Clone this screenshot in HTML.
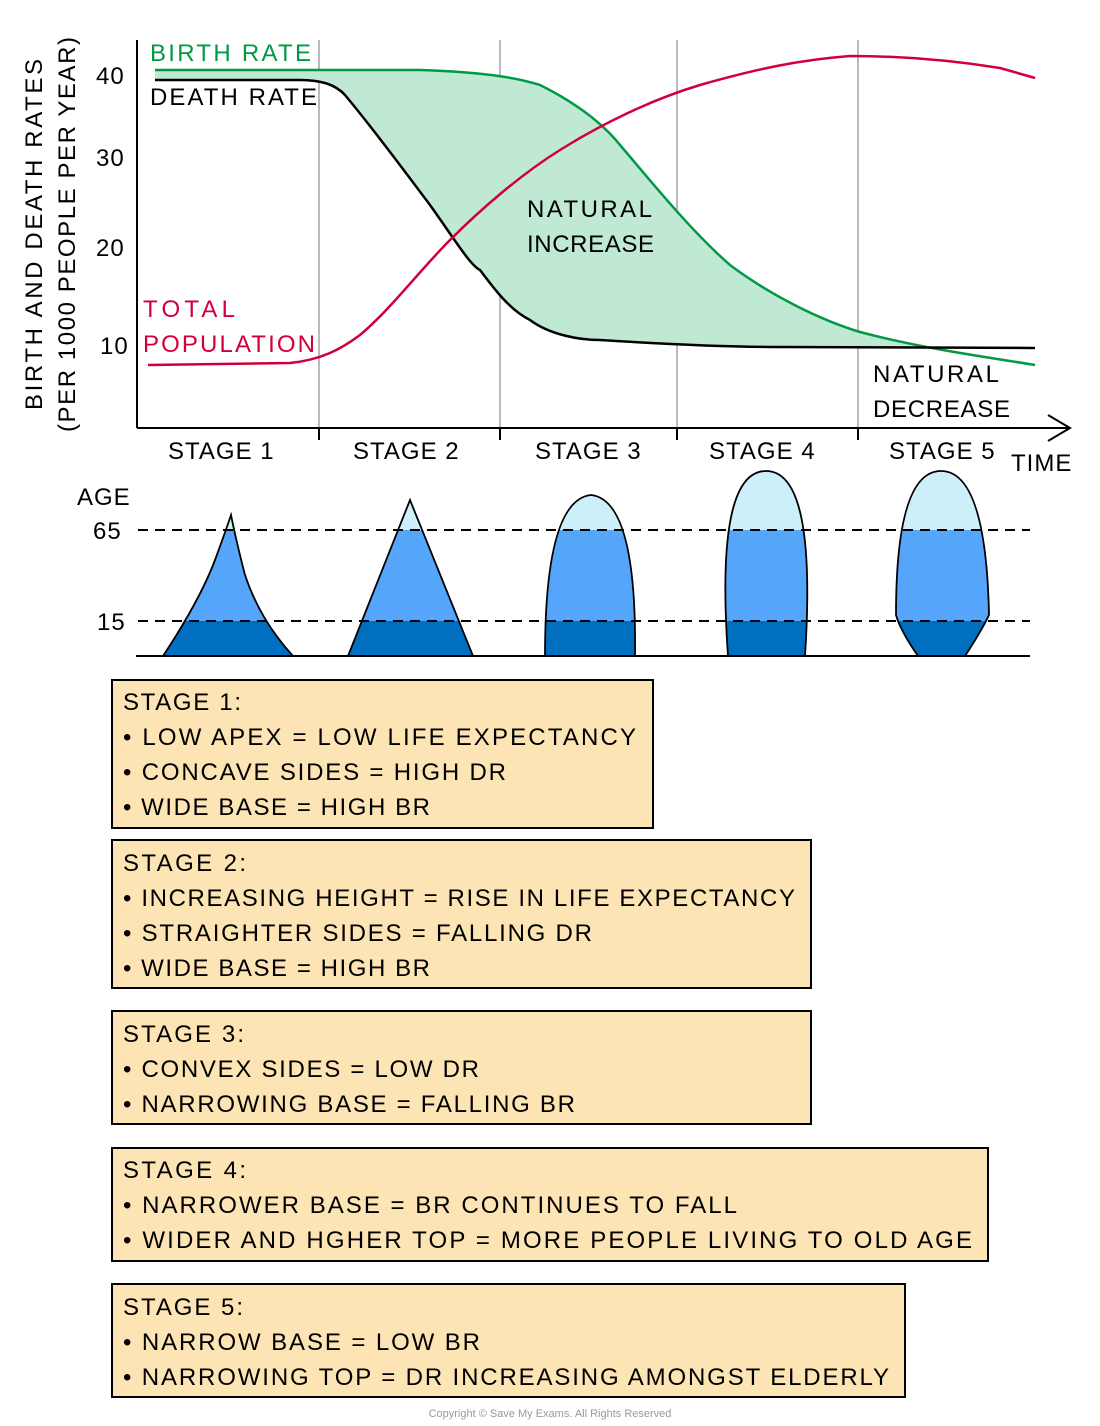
<!DOCTYPE html>
<html><head><meta charset="utf-8"><style>
body{margin:0;background:#fff;width:1100px;height:1426px;overflow:hidden}
svg{display:block}
text{font-family:"Liberation Sans",sans-serif;font-size:24px;letter-spacing:1px}
</style></head><body>
<svg width="1100" height="1426" viewBox="0 0 1100 1426">
<defs>
<clipPath id="c1"><path d="M163,656 Q200,600 215,560 Q226,530 231,515 Q236,540 245,575 Q260,620 293,656 Z"/></clipPath>
<clipPath id="c2"><path d="M348,656 L410,500 L473,656 Z"/></clipPath>
<clipPath id="c3"><path d="M545,656 Q545,500 591,495 Q637,500 635,656 Z"/></clipPath>
<clipPath id="c4"><path d="M728,656 Q715,471 766,471 Q817,471 805,656 Z"/></clipPath>
<clipPath id="c5"><path d="M918,656 Q900,630 896,615 Q896,471 941,471 Q986,471 989,615 Q982,630 965,656 Z"/></clipPath>
</defs>
<g stroke="#bbb" stroke-width="2">
<line x1="319" y1="40" x2="319" y2="428"/><line x1="500" y1="40" x2="500" y2="428"/>
<line x1="677" y1="40" x2="677" y2="428"/><line x1="858" y1="40" x2="858" y2="428"/>
</g>
<path d="M155,70 L420,70 C480,72 515,77 540,85 C570,100 600,120 620,145 C650,180 690,230 730,265 C770,295 820,320 860,332 L930,347.5 L780,347 C730,347 680,345 600,340 C580,340 550,335 530,320 C510,310 495,290 480,270 C470,265 455,240 430,205 C400,165 370,125 345,95 C335,84 320,80 300,80 L155,80 Z" fill="#bfe9d3"/>
<path d="M155,70 L420,70 C480,72 515,77 540,85 C570,100 600,120 620,145 C650,180 690,230 730,265 C770,295 820,320 860,332 C920,348 980,356 1035,365" fill="none" stroke="#009a44" stroke-width="2.5"/>
<path d="M155,80 L300,80 C320,80 335,84 345,95 C370,125 400,165 430,205 C455,240 470,265 480,270 C495,290 510,310 530,320 C550,335 580,340 600,340 C680,345 730,347 780,347 L1035,348" fill="none" stroke="#000" stroke-width="2.5"/>
<path d="M148,365 L290,363 C320,360 340,350 360,335 C390,310 420,270 450,240 C480,210 520,175 560,150 C600,125 650,100 700,85 C760,68 800,60 850,56 C900,56 950,60 1000,68 L1035,78" fill="none" stroke="#d1003a" stroke-width="2.5"/>
<g stroke="#000" stroke-width="2" fill="none">
<line x1="137" y1="40" x2="137" y2="428"/><line x1="137" y1="428" x2="1070" y2="428"/>
<polyline points="1048,415 1070,428 1048,441"/>
<line x1="319" y1="428" x2="319" y2="440"/><line x1="500" y1="428" x2="500" y2="440"/>
<line x1="677" y1="428" x2="677" y2="440"/><line x1="858" y1="428" x2="858" y2="440"/>
</g>
<g fill="#000">
<text x="96" y="84">40</text><text x="96" y="166">30</text><text x="96" y="256">20</text><text x="100" y="354">10</text>
<text x="150" y="105" textLength="168" lengthAdjust="spacing">DEATH RATE</text>
<text x="527" y="217" textLength="126" lengthAdjust="spacing">NATURAL</text><text x="527" y="252" textLength="128" lengthAdjust="spacing">INCREASE</text>
<text x="873" y="382" textLength="127" lengthAdjust="spacing">NATURAL</text><text x="873" y="417" textLength="138" lengthAdjust="spacing">DECREASE</text>
<text x="168" y="459">STAGE 1</text><text x="353" y="459">STAGE 2</text><text x="535" y="459">STAGE 3</text><text x="709" y="459">STAGE 4</text><text x="889" y="459">STAGE 5</text>
<text x="1011" y="471">TIME</text>
<text transform="translate(42,410) rotate(-90)" textLength="352" lengthAdjust="spacing">BIRTH AND DEATH RATES</text>
<text transform="translate(75,432) rotate(-90)" textLength="396" lengthAdjust="spacing">(PER 1000 PEOPLE PER YEAR)</text>
<text x="77" y="505">AGE</text><text x="93" y="539">65</text><text x="97" y="630">15</text>
</g>
<text x="150" y="61" fill="#009a44" textLength="162" lengthAdjust="spacing">BIRTH RATE</text>
<text x="143" y="317" fill="#d1003a" textLength="93" lengthAdjust="spacing">TOTAL</text>
<text x="143" y="352" fill="#d1003a" textLength="173" lengthAdjust="spacing">POPULATION</text>
<g clip-path="url(#c1)"><rect x="140" y="400" width="180" height="130" fill="#cdeffa"/><rect x="140" y="530" width="180" height="91" fill="#55a6fb"/><rect x="140" y="621" width="180" height="40" fill="#006fc0"/></g>
<g clip-path="url(#c2)"><rect x="330" y="400" width="160" height="130" fill="#cdeffa"/><rect x="330" y="530" width="160" height="91" fill="#55a6fb"/><rect x="330" y="621" width="160" height="40" fill="#006fc0"/></g>
<g clip-path="url(#c3)"><rect x="530" y="400" width="120" height="130" fill="#cdeffa"/><rect x="530" y="530" width="120" height="91" fill="#55a6fb"/><rect x="530" y="621" width="120" height="40" fill="#006fc0"/></g>
<g clip-path="url(#c4)"><rect x="700" y="400" width="130" height="130" fill="#cdeffa"/><rect x="700" y="530" width="130" height="91" fill="#55a6fb"/><rect x="700" y="621" width="130" height="40" fill="#006fc0"/></g>
<g clip-path="url(#c5)"><rect x="880" y="400" width="120" height="130" fill="#cdeffa"/><rect x="880" y="530" width="120" height="91" fill="#55a6fb"/><rect x="880" y="621" width="120" height="40" fill="#006fc0"/></g>
<g fill="none" stroke="#000" stroke-width="1.8">
<path d="M163,656 Q200,600 215,560 Q226,530 231,515 Q236,540 245,575 Q260,620 293,656"/>
<path d="M348,656 L410,500 L473,656"/>
<path d="M545,656 Q545,500 591,495 Q637,500 635,656"/>
<path d="M728,656 Q715,471 766,471 Q817,471 805,656"/>
<path d="M918,656 Q900,630 896,615 Q896,471 941,471 Q986,471 989,615 Q982,630 965,656"/>
</g>
<g stroke="#000" stroke-width="2" stroke-dasharray="10,7">
<line x1="138" y1="530" x2="1030" y2="530"/><line x1="138" y1="621" x2="1030" y2="621"/>
</g>
<line x1="136" y1="656" x2="1030" y2="656" stroke="#000" stroke-width="2"/>
<g fill="#fde4b4" stroke="#000" stroke-width="2">
<rect x="112" y="680" width="541" height="148"/>
<rect x="112" y="840" width="699" height="148"/>
<rect x="112" y="1011" width="699" height="113"/>
<rect x="112" y="1148" width="876" height="113"/>
<rect x="112" y="1284" width="793" height="113"/>
</g>
<g fill="#000">
<text x="123" y="710" textLength="119" lengthAdjust="spacing">STAGE 1:</text>
<text x="123" y="745" textLength="514" lengthAdjust="spacing">• LOW  APEX = LOW  LIFE  EXPECTANCY</text>
<text x="123" y="780" textLength="384" lengthAdjust="spacing">• CONCAVE  SIDES = HIGH  DR</text>
<text x="123" y="815" textLength="308" lengthAdjust="spacing">• WIDE  BASE = HIGH  BR</text>
<text x="123" y="871" textLength="124" lengthAdjust="spacing">STAGE 2:</text>
<text x="123" y="906" textLength="673" lengthAdjust="spacing">• INCREASING  HEIGHT = RISE  IN  LIFE  EXPECTANCY</text>
<text x="123" y="941" textLength="470" lengthAdjust="spacing">• STRAIGHTER  SIDES = FALLING  DR</text>
<text x="123" y="976" textLength="308" lengthAdjust="spacing">• WIDE  BASE = HIGH  BR</text>
<text x="123" y="1042" textLength="122" lengthAdjust="spacing">STAGE 3:</text>
<text x="123" y="1077" textLength="357" lengthAdjust="spacing">• CONVEX  SIDES = LOW DR</text>
<text x="123" y="1112" textLength="453" lengthAdjust="spacing">• NARROWING  BASE = FALLING  BR</text>
<text x="123" y="1178" textLength="124" lengthAdjust="spacing">STAGE 4:</text>
<text x="123" y="1213" textLength="615" lengthAdjust="spacing">• NARROWER  BASE = BR  CONTINUES  TO  FALL</text>
<text x="123" y="1248" textLength="850" lengthAdjust="spacing">• WIDER  AND  HGHER  TOP = MORE  PEOPLE  LIVING  TO  OLD  AGE</text>
<text x="123" y="1315" textLength="121" lengthAdjust="spacing">STAGE 5:</text>
<text x="123" y="1350" textLength="358" lengthAdjust="spacing">• NARROW  BASE = LOW  BR</text>
<text x="123" y="1385" textLength="767" lengthAdjust="spacing">• NARROWING  TOP = DR  INCREASING  AMONGST  ELDERLY</text>
</g>
<text x="550" y="1417" text-anchor="middle" style="font-size:11px;letter-spacing:0" fill="#999">Copyright © Save My Exams. All Rights Reserved</text>
</svg>
</body></html>
